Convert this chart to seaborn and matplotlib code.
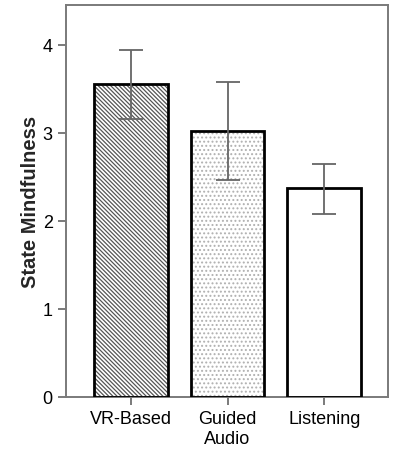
import matplotlib
matplotlib.use("Agg")
import matplotlib.pyplot as plt
import pandas as pd
import seaborn as sns
from matplotlib.patches import Rectangle

# valores
conditions = ["VR-Based", "Guided\nAudio", "Listening"]
means = [3.55, 3.02, 2.37]
err_low = [3.15, 2.46, 2.08]
err_high = [3.94, 3.57, 2.65]

df = pd.DataFrame({"condition": conditions, "mindfulness": means})

sns.set_style("ticks")
plt.rcParams["font.family"] = ["Liberation Sans", "DejaVu Sans"]
plt.rcParams["hatch.linewidth"] = 0.9

fig = plt.figure(figsize=(3.94, 4.6), dpi=100)
ax = fig.add_axes([0.1675, 0.135, 0.8175, 0.852])

sns.barplot(data=df, x="condition", y="mindfulness", color="white",
            edgecolor="black", linewidth=0, width=0.76, errorbar=None,
            saturation=1, ax=ax, zorder=2)

# hachuras em cinza e contorno preto por cima
hatches = ["\\\\\\\\\\\\\\\\", "....", ""]
hatch_colors = ["#555555", "#b0b0b0", "white"]
for p, h, c in list(zip(ax.patches, hatches, hatch_colors)):
    x0, y0 = p.get_xy()
    w, ht = p.get_width(), p.get_height()
    if h:
        ax.add_patch(Rectangle((x0, y0), w, ht, fill=False, hatch=h,
                               edgecolor=c, linewidth=0, zorder=2.5))
    ax.add_patch(Rectangle((x0, y0), w, ht, fill=False, edgecolor="black",
                           linewidth=2, zorder=3))

# barras de erro
yerr = [[m - lo for m, lo in zip(means, err_low)],
        [hi - m for m, hi in zip(means, err_high)]]
ax.errorbar(range(len(conditions)), means, yerr=yerr, fmt="none",
            ecolor="#666666", elinewidth=1.3, capsize=8.5, capthick=1.3,
            zorder=4)

ax.set_xlim(-0.67, 2.66)
ax.set_ylim(0, 4.45)
ax.set_yticks([0, 1, 2, 3, 4])
ax.set_xlabel("")
ax.set_ylabel("State Mindfulness", fontsize=14.5, fontweight="bold",
              labelpad=2)

for s in ax.spines.values():
    s.set_visible(True)
    s.set_color("#7a7a7a")
    s.set_linewidth(1.4)
ax.tick_params(axis="both", length=6, width=1.4, color="#7a7a7a",
               labelsize=13, labelcolor="black")

fig.savefig("out.png", dpi=100)
